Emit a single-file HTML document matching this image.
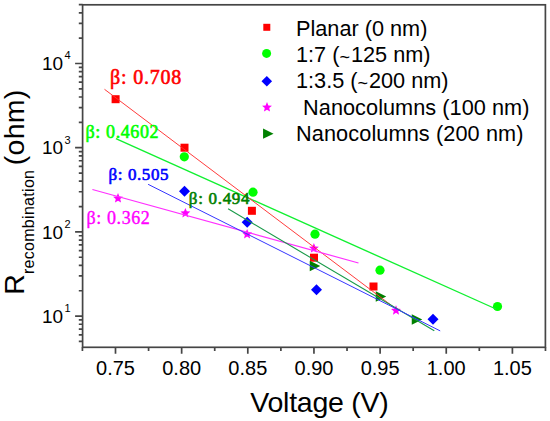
<!DOCTYPE html>
<html><head><meta charset="utf-8"><style>
html,body{margin:0;padding:0;background:#fff;}
body{width:550px;height:421px;overflow:hidden;}
svg{display:block;}
text{font-family:"Liberation Sans",sans-serif;fill:#000;}
.tl{font-size:20px;}
.sup{font-size:11px;}
.lg{font-size:21.7px;}
.at{font-size:28.5px;}
.sub{font-size:16px;}
.tld{font-size:18px;letter-spacing:1px;}
.bl{font-family:"Liberation Serif",serif;stroke-width:0.45px;}
</style></head><body>
<svg width="550" height="421" viewBox="0 0 550 421">
<rect x="82.6" y="4.8" width="462.80" height="342.50" fill="none" stroke="#454545" stroke-width="1.7"/>
<path d="M78.8 341.45H82.6 M78.8 334.78H82.6 M78.8 329.14H82.6 M78.8 324.26H82.6 M78.8 319.95H82.6 M75.1 316.10H82.6 M78.8 290.75H82.6 M78.8 275.93H82.6 M78.8 265.41H82.6 M78.8 257.25H82.6 M78.8 250.58H82.6 M78.8 244.94H82.6 M78.8 240.06H82.6 M78.8 235.75H82.6 M75.1 231.90H82.6 M78.8 206.55H82.6 M78.8 191.73H82.6 M78.8 181.21H82.6 M78.8 173.05H82.6 M78.8 166.38H82.6 M78.8 160.74H82.6 M78.8 155.86H82.6 M78.8 151.55H82.6 M75.1 147.70H82.6 M78.8 122.35H82.6 M78.8 107.53H82.6 M78.8 97.01H82.6 M78.8 88.85H82.6 M78.8 82.18H82.6 M78.8 76.54H82.6 M78.8 71.66H82.6 M78.8 67.35H82.6 M75.1 63.50H82.6 M78.8 38.15H82.6 M78.8 23.33H82.6 M78.8 12.81H82.6 M78.8 4.65H82.6" stroke="#454545" stroke-width="1.7" fill="none"/>
<path d="M82.42 347.3V351.1 M115.50 347.3V353.8 M148.58 347.3V351.1 M181.65 347.3V353.8 M214.72 347.3V351.1 M247.80 347.3V353.8 M280.88 347.3V351.1 M313.95 347.3V353.8 M347.03 347.3V351.1 M380.10 347.3V353.8 M413.17 347.3V351.1 M446.25 347.3V353.8 M479.32 347.3V351.1 M512.40 347.3V353.8 M545.47 347.3V351.1" stroke="#454545" stroke-width="1.7" fill="none"/>
<text x="115.5" y="374.5" text-anchor="middle" class="tl">0.75</text>
<text x="181.7" y="374.5" text-anchor="middle" class="tl">0.80</text>
<text x="247.8" y="374.5" text-anchor="middle" class="tl">0.85</text>
<text x="314.0" y="374.5" text-anchor="middle" class="tl">0.90</text>
<text x="380.1" y="374.5" text-anchor="middle" class="tl">0.95</text>
<text x="446.2" y="374.5" text-anchor="middle" class="tl">1.00</text>
<text x="512.4" y="374.5" text-anchor="middle" class="tl">1.05</text>
<text x="63.1" y="70.1" text-anchor="end" class="tl" style="font-size:19px">10</text>
<text x="64.6" y="59.3" class="sup">4</text>
<text x="63.1" y="154.3" text-anchor="end" class="tl" style="font-size:19px">10</text>
<text x="64.6" y="143.5" class="sup">3</text>
<text x="63.1" y="238.5" text-anchor="end" class="tl" style="font-size:19px">10</text>
<text x="64.6" y="227.7" class="sup">2</text>
<text x="63.1" y="322.7" text-anchor="end" class="tl" style="font-size:19px">10</text>
<text x="64.6" y="311.9" class="sup">1</text>
<circle cx="184.30" cy="156.80" r="4.6" fill="#00ff00"/>
<circle cx="253.00" cy="192.20" r="4.6" fill="#00ff00"/>
<circle cx="315.00" cy="234.20" r="4.6" fill="#00ff00"/>
<circle cx="380.00" cy="270.20" r="4.6" fill="#00ff00"/>
<circle cx="497.50" cy="306.50" r="4.6" fill="#00ff00"/>
<rect x="111.60" y="95.20" width="8" height="8" fill="#ff0000"/>
<rect x="180.50" y="143.70" width="8" height="8" fill="#ff0000"/>
<rect x="247.90" y="206.80" width="8" height="8" fill="#ff0000"/>
<rect x="310.00" y="253.70" width="8" height="8" fill="#ff0000"/>
<rect x="369.50" y="282.50" width="8" height="8" fill="#ff0000"/>
<path d="M184.50 185.80L190.00 191.30L184.50 196.80L179.00 191.30Z" fill="#0000ff"/>
<path d="M247.20 216.80L252.70 222.30L247.20 227.80L241.70 222.30Z" fill="#0000ff"/>
<path d="M316.50 284.20L322.00 289.70L316.50 295.20L311.00 289.70Z" fill="#0000ff"/>
<path d="M433.00 313.80L438.50 319.30L433.00 324.80L427.50 319.30Z" fill="#0000ff"/>
<polygon points="118.00,193.10 119.38,196.41 122.95,196.69 120.23,199.02 121.06,202.51 118.00,200.64 114.94,202.51 115.77,199.02 113.05,196.69 116.62,196.41" fill="#ff00ff"/>
<polygon points="185.40,208.00 186.78,211.31 190.35,211.59 187.63,213.92 188.46,217.41 185.40,215.54 182.34,217.41 183.17,213.92 180.45,211.59 184.02,211.31" fill="#ff00ff"/>
<polygon points="247.10,229.00 248.48,232.31 252.05,232.59 249.33,234.92 250.16,238.41 247.10,236.54 244.04,238.41 244.87,234.92 242.15,232.59 245.72,232.31" fill="#ff00ff"/>
<polygon points="313.90,243.10 315.28,246.41 318.85,246.69 316.13,249.02 316.96,252.51 313.90,250.64 310.84,252.51 311.67,249.02 308.95,246.69 312.52,246.41" fill="#ff00ff"/>
<polygon points="396.00,305.30 397.38,308.61 400.95,308.89 398.23,311.22 399.06,314.71 396.00,312.84 392.94,314.71 393.77,311.22 391.05,308.89 394.62,308.61" fill="#ff00ff"/>
<path d="M309.75 260.75L320.25 266.00L309.75 271.25Z" fill="#008000"/>
<path d="M375.75 291.15L386.25 296.40L375.75 301.65Z" fill="#008000"/>
<path d="M411.75 314.25L422.25 319.50L411.75 324.75Z" fill="#008000"/>
<line x1="115.9" y1="138.7" x2="496" y2="309" stroke="#10f030" stroke-width="1.35"/>
<line x1="104.5" y1="89.3" x2="393" y2="306.6" stroke="#ff3030" stroke-width="0.95"/>
<line x1="92.4" y1="189.5" x2="358.5" y2="263" stroke="#ff30ff" stroke-width="1.2"/>
<line x1="228.1" y1="208.8" x2="434.3" y2="330.8" stroke="#189a48" stroke-width="1.1"/>
<line x1="148.1" y1="184.3" x2="440.2" y2="330.9" stroke="#3535ff" stroke-width="1.0"/>
<text x="110" y="84.3" class="bl" style="font-size:20px;fill:#ff0000;stroke:#ff0000;stroke-width:0.6px;letter-spacing:0.8px">β: 0.708</text>
<text x="85.6" y="137.8" class="bl" style="font-size:18px;fill:#00ff00;stroke:#00ff00;stroke-width:0.6px;letter-spacing:0.6px">β: 0.4602</text>
<text x="108.5" y="179.7" class="bl" style="font-size:17px;fill:#0000ff;stroke:#0000ff;stroke-width:0.6px;letter-spacing:0.6px">β: 0.505</text>
<text x="188.8" y="203.5" class="bl" style="font-size:17px;fill:#008000;stroke:#008000;stroke-width:0.6px;letter-spacing:0.7px">β: 0.494</text>
<text x="86.5" y="223.6" class="bl" style="font-size:18px;fill:#ff00ff;stroke:#ff00ff;stroke-width:0.4px;letter-spacing:0.6px">β: 0.362</text>
<rect x="263.30" y="23.80" width="7" height="7" fill="#ff0000"/>
<circle cx="266.60" cy="53.40" r="4.5" fill="#00ff00"/>
<path d="M266.80 76.00L272.10 81.30L266.80 86.60L261.50 81.30Z" fill="#0000ff"/>
<polygon points="267.00,102.10 268.38,105.41 271.95,105.69 269.23,108.02 270.06,111.51 267.00,109.64 263.94,111.51 264.77,108.02 262.05,105.69 265.62,105.41" fill="#ff00ff"/>
<path d="M263.05 128.60L273.55 133.70L263.05 138.80Z" fill="#008000"/>
<text x="296" y="35.7" class="lg" style="letter-spacing:0px">Planar (0 nm)</text>
<text x="296" y="62.0" class="lg" style="letter-spacing:0px">1:7 (<tspan class="tld" dy="0.8">~</tspan><tspan dy="-0.8">125 nm)</tspan></text>
<text x="296" y="88.3" class="lg" style="letter-spacing:0px">1:3.5 (<tspan class="tld" dy="0.8">~</tspan><tspan dy="-0.8">200 nm)</tspan></text>
<text x="297" y="114.6" class="lg" style="letter-spacing:0.05px"> Nanocolumns (100 nm)</text>
<text x="296" y="140.9" class="lg" style="letter-spacing:0.11px">Nanocolumns (200 nm)</text>
<text x="250.3" y="411.5" class="at" style="letter-spacing:-0.25px">Voltage (V)</text>
<text transform="translate(23.8,294.7) rotate(-90)" class="at">R<tspan class="sub" dy="10.5" style="letter-spacing:0.3px">recombination</tspan><tspan dy="-10.5" dx="-3.8" style="letter-spacing:0.3px"> (ohm)</tspan></text>
</svg>
</body></html>
